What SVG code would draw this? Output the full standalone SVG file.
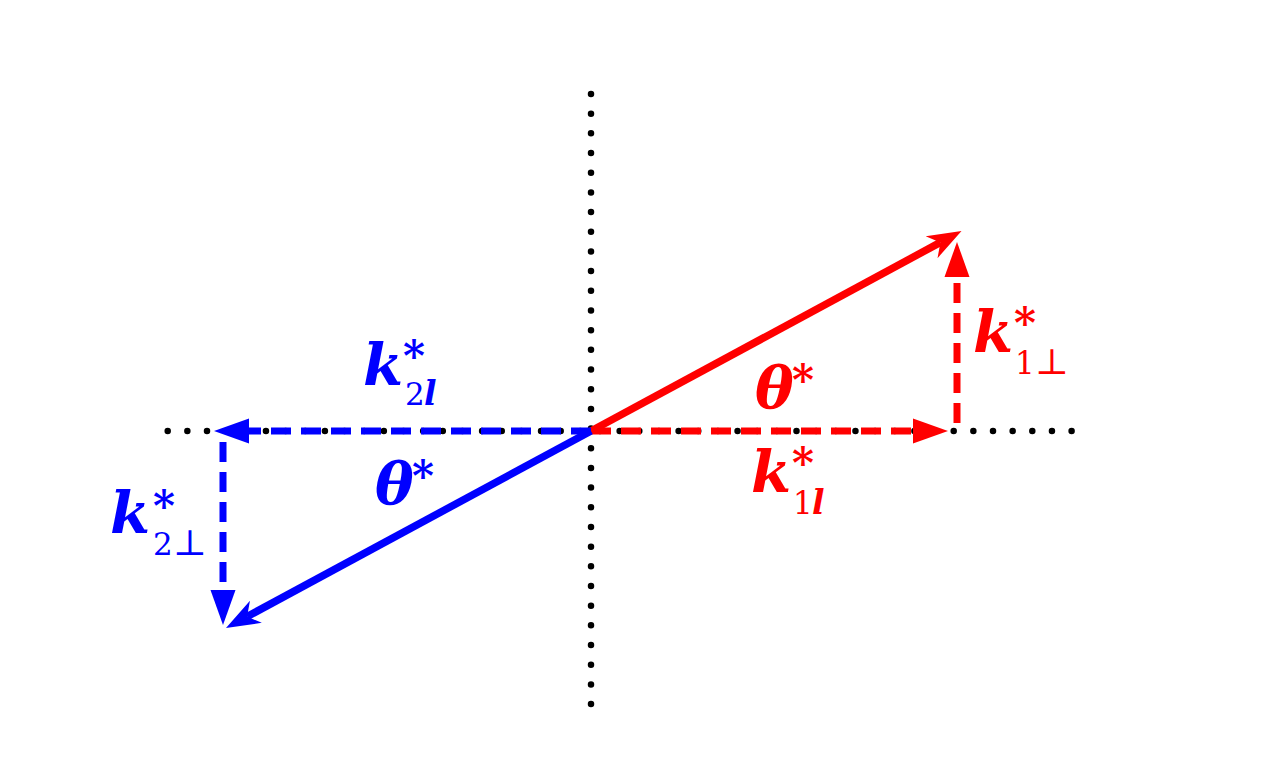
<svg xmlns="http://www.w3.org/2000/svg" width="1284" height="762" viewBox="0 0 1284 762">
<style>
.axis{stroke:#000;stroke-width:6.5;stroke-linecap:round;fill:none}
.solid{stroke-width:7.5;fill:none}
.dash{stroke-width:7;fill:none;stroke-dasharray:20 10}
.red{stroke:#ff0000}
.blue{stroke:#0000ff}
.lbl{font-family:"DejaVu Serif",serif;font-weight:bold;font-style:italic}
.main{font-size:58px}
.star{font-size:42px;font-style:normal}
.sub{font-size:31px;font-weight:normal;font-style:normal}
.perp{font-size:36px;font-weight:normal;font-style:normal}
.subi{font-size:33px;font-weight:bold;font-style:italic}
.rt{fill:#ff0000}
.bt{fill:#0000ff}
</style>
<defs>
<marker id="stealthR" markerUnits="userSpaceOnUse" markerWidth="40" markerHeight="40" refX="-24" refY="0" orient="auto" overflow="visible">
<path d="M0,0 L-34,-12.5 L-24,0 L-34,12.5 Z" fill="#ff0000"/>
</marker>
<marker id="stealthB" markerUnits="userSpaceOnUse" markerWidth="40" markerHeight="40" refX="-24" refY="0" orient="auto" overflow="visible">
<path d="M0,0 L-34,-12.5 L-24,0 L-34,12.5 Z" fill="#0000ff"/>
</marker>
<marker id="triR" markerUnits="userSpaceOnUse" markerWidth="40" markerHeight="30" refX="0" refY="0" orient="auto" overflow="visible">
<path d="M0,-12.5 L35,0 L0,12.5 Z" fill="#ff0000"/>
</marker>
<marker id="triB" markerUnits="userSpaceOnUse" markerWidth="40" markerHeight="30" refX="0" refY="0" orient="auto" overflow="visible">
<path d="M0,-12.5 L35,0 L0,12.5 Z" fill="#0000ff"/>
</marker>
</defs>
<g id="axes">
<line class="axis" x1="591" y1="94" x2="591" y2="704.5" stroke-dasharray="0 19.68"/>
<line class="axis" x1="167.7" y1="431" x2="1071.7" y2="431" stroke-dasharray="0 19.65"/>
</g>
<g id="connectors">
<line id="k1l" class="dash red" x1="591" y1="431" x2="913" y2="431" marker-end="url(#triR)"/>
<line id="k1perp" class="dash red" x1="957" y1="423" x2="957" y2="277" marker-end="url(#triR)"/>
<line id="k1" class="solid red" x1="591" y1="431" x2="940.4" y2="242.4" marker-end="url(#stealthR)"/>
<line id="k2l" class="dash blue" x1="591" y1="431" x2="249" y2="431" marker-end="url(#triB)"/>
<line id="k2perp" class="dash blue" x1="223" y1="442" x2="223" y2="590" marker-end="url(#triB)"/>
<line id="k2" class="solid blue" x1="591" y1="431" x2="247.1" y2="616.6" marker-end="url(#stealthB)"/>
</g>
<g id="label-k2l" class="lbl bt">
<text class="main" x="363" y="385">k</text>
<text class="star" x="403" y="371">*</text>
<text class="sub" x="405" y="405">2</text>
<text class="subi" x="424" y="405">l</text>
</g>
<g id="label-theta-blue" class="lbl bt">
<text class="main" x="375" y="504">θ</text>
<text class="star" x="412" y="491">*</text>
</g>
<g id="label-k2perp" class="lbl bt">
<text class="main" x="110" y="533">k</text>
<text class="star" x="153" y="521">*</text>
<text class="sub" x="153" y="555">2</text>
<text class="perp" x="173" y="555">⊥</text>
</g>
<g id="label-theta-red" class="lbl rt">
<text class="main" x="755" y="408">θ</text>
<text class="star" x="792" y="395">*</text>
</g>
<g id="label-k1l" class="lbl rt">
<text class="main" x="751" y="492">k</text>
<text class="star" x="792" y="478">*</text>
<text class="sub" x="793" y="514">1</text>
<text class="subi" x="812" y="514">l</text>
</g>
<g id="label-k1perp" class="lbl rt">
<text class="main" x="973" y="352">k</text>
<text class="star" x="1014" y="338">*</text>
<text class="sub" x="1015" y="374">1</text>
<text class="perp" x="1035" y="374">⊥</text>
</g>
</svg>
